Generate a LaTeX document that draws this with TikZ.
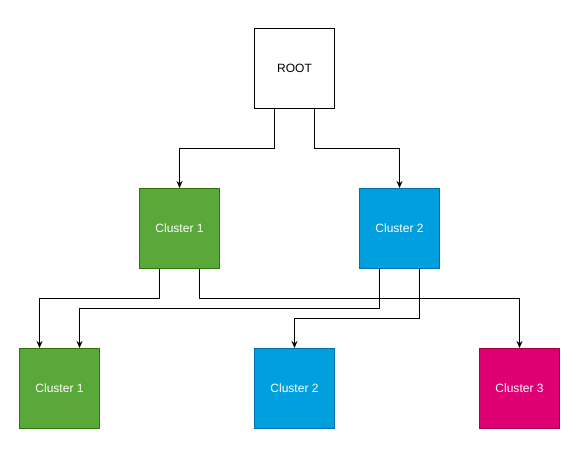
\documentclass[tikz,border=0pt]{standalone}
\usepackage{fontspec}
\setmainfont{Liberation Sans}
\usetikzlibrary{arrows.meta}
\definecolor{gfill}{HTML}{5AA83A}
\definecolor{gdraw}{HTML}{2D7600}
\definecolor{bfill}{HTML}{00A0DE}
\definecolor{bdraw}{HTML}{006EAF}
\definecolor{mfill}{HTML}{DE0072}
\definecolor{mdraw}{HTML}{A50040}
\begin{document}
\begin{tikzpicture}[x=1pt,y=-1pt,
  box/.style={minimum width=80pt,minimum height=80pt,inner sep=0pt,line width=1pt,font=\fontsize{12}{14}\selectfont},
  whitebox/.style={box,draw=black,fill=white,text=black},
  greenbox/.style={box,draw=gdraw,fill=gfill,text=white},
  bluebox/.style={box,draw=bdraw,fill=bfill,text=white},
  magbox/.style={box,draw=mdraw,fill=mfill,text=white},
  conn/.style={line width=1pt,-{Stealth[length=7pt,width=6pt]}}]
\useasboundingbox (0,0) rectangle (580,457);
\node[whitebox] (root) at (294.5,68.5) {ROOT};
\node[greenbox] (c1) at (179.5,228.5) {Cluster 1};
\node[bluebox] (c2) at (399.5,228.5) {Cluster 2};
\node[greenbox] (b1) at (59.5,388.5) {Cluster 1};
\node[bluebox] (b2) at (294.5,388.5) {Cluster 2};
\node[magbox] (b3) at (519.5,388.5) {Cluster 3};
\draw[conn] ([xshift=-20pt]root.south) |- (179.5,148.5) -- (c1.north);
\draw[conn] ([xshift=20pt]root.south) |- (399.5,148.5) -- (c2.north);
\draw[conn] ([xshift=-20pt]c1.south) |- (39.5,298.5) -- ([xshift=-20pt]b1.north);
\draw[conn] ([xshift=20pt]c1.south) |- (519.5,298.5) -- (b3.north);
\draw[conn] ([xshift=-20pt]c2.south) |- (79.5,308.5) -- ([xshift=20pt]b1.north);
\draw[conn] ([xshift=20pt]c2.south) |- (294.5,318.5) -- (b2.north);
\end{tikzpicture}
\end{document}
